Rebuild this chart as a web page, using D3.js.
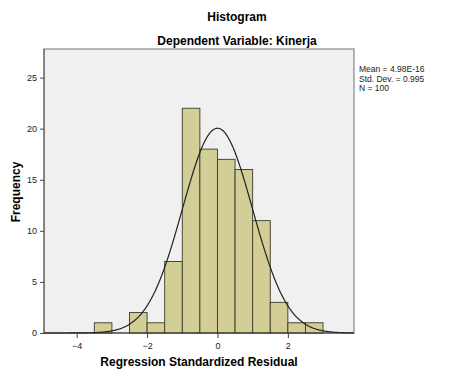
<!DOCTYPE html>
<html><head><meta charset="utf-8">
<script src="https://cdn.jsdelivr.net/npm/d3@7"></script>
<style>body{margin:0;background:#fff}svg text{font-family:Arial,"Liberation Sans",sans-serif}</style>
</head><body>
<script>
const binStarts = [-3.5,-3.0,-2.5,-2.0,-1.5,-1.0,-0.5,0.0,0.5,1.0,1.5,2.0,2.5];
const counts    = [1,0,2,1,7,22,18,17,16,11,3,1,1];
const binWidth = 0.5;
const xTicks = [-4,-2,0,2];
const yTicks = [0,5,10,15,20,25];
const mean = 4.98e-16, sd = 0.995, n = 100;
const legendLines = ["Mean = 4.98E-16","Std. Dev. = 0.995","N = 100"];

const W=474,H=379;
const L=44,R=354,T=49,B=333;
const svg=d3.select("body").append("svg").attr("width",W).attr("height",H);
const x=d3.scaleLinear().domain([-4.93,3.88]).range([L,R]);
const y=d3.scaleLinear().domain([0,27.8]).range([B,T]);

svg.append("rect").attr("x",L).attr("y",T).attr("width",R-L).attr("height",B-T)
  .attr("fill","#f0f0f0").attr("stroke","#888").attr("stroke-width",1.2);

svg.append("g").selectAll("rect").data(binStarts.map((s,i)=>({s,c:counts[i]})).filter(d=>d.c>0))
 .join("rect").attr("x",d=>x(d.s)).attr("width",d=>x(d.s+binWidth)-x(d.s))
 .attr("y",d=>y(d.c)).attr("height",d=>y(0)-y(d.c))
 .attr("fill","#d3ce96").attr("stroke","#3a3a2a").attr("stroke-width",0.9);

const pts=d3.range(-4.93,3.88,0.02).map(v=>[v,n*binWidth*Math.exp(-0.5*((v-mean)/sd)**2)/(sd*Math.sqrt(2*Math.PI))]);
svg.append("path").datum(pts).attr("fill","none").attr("stroke","#222").attr("stroke-width",1.2)
 .attr("d",d3.line().x(d=>x(d[0])).y(d=>y(d[1])).curve(d3.curveBasis));

// axes lines
svg.append("line").attr("x1",L).attr("x2",R).attr("y1",B).attr("y2",B).attr("stroke","#333").attr("stroke-width",1.2);
svg.append("line").attr("x1",L).attr("x2",L).attr("y1",T).attr("y2",B).attr("stroke","#555").attr("stroke-width",1);

const gx=svg.append("g").attr("transform",`translate(0,${B})`)
 .call(d3.axisBottom(x).tickValues(xTicks).tickSize(5).tickFormat(d3.format("d")));
gx.select(".domain").remove();
gx.selectAll("text").attr("font-size",9).attr("fill","#222").attr("dy","0.9em");
const gy=svg.append("g").attr("transform",`translate(${L},0)`)
 .call(d3.axisLeft(y).tickValues(yTicks).tickSize(4).tickFormat(d3.format("d")));
gy.select(".domain").remove();
gy.selectAll("text").attr("font-size",9).attr("fill","#222");
svg.selectAll(".tick line").attr("stroke","#444");

svg.append("text").attr("x",237).attr("y",21).attr("text-anchor","middle").attr("font-size",12).attr("font-weight","bold").text("Histogram");
svg.append("text").attr("x",237).attr("y",45).attr("text-anchor","middle").attr("font-size",12).attr("font-weight","bold").text("Dependent Variable: Kinerja");
svg.append("text").attr("x",(L+R)/2).attr("y",366).attr("text-anchor","middle").attr("font-size",12).attr("font-weight","bold").text("Regression Standardized Residual");
svg.append("text").attr("transform","translate(20,192) rotate(-90)").attr("text-anchor","middle").attr("font-size",12).attr("font-weight","bold").text("Frequency");

svg.append("g").selectAll("text").data(legendLines).join("text")
 .attr("x",359).attr("y",(d,i)=>72+i*9.5).attr("font-size",8.5).attr("fill","#222").text(d=>d);
</script>
</body></html>
